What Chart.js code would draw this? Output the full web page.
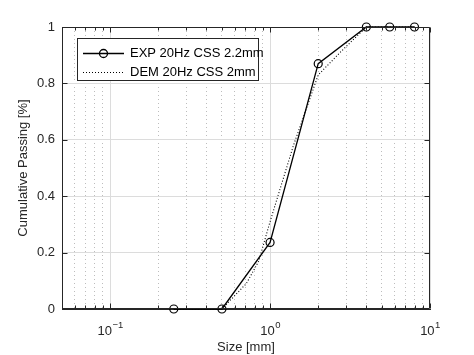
<!DOCTYPE html>
<html><head><meta charset="utf-8">
<style>html,body{margin:0;padding:0;background:#fff}</style>
<script src="https://cdn.jsdelivr.net/npm/chart.js@4/dist/chart.umd.min.js"></script>
</head><body>
<canvas id="c" width="474" height="355"></canvas>
<script>
// ---- data ----
const expSizes   = [0.25, 0.5, 1, 2, 4, 5.6, 8];
const expPassing = [0, 0, 0.236, 0.87, 1, 1, 1];
const demSizes   = [0.25, 0.5, 0.71, 0.85, 1, 1.4, 2, 2.8, 4, 5.6, 8];
const demPassing = [0, 0, 0.09, 0.17, 0.31, 0.58, 0.83, 0.915, 1, 1, 1];
const seriesLabels = ['EXP 20Hz CSS 2.2mm', 'DEM 20Hz CSS 2mm'];
const yTickValues = [0, 0.2, 0.4, 0.6, 0.8, 1];
const yTickLabels = ['0', '0.2', '0.4', '0.6', '0.8', '1'];
const xTickBase = '10';
const xTickExponents = ['-1', '0', '1'];
const xTitle = 'Size [mm]';
const yTitle = 'Cumulative Passing [%]';

const FONT = '"Liberation Sans", Arial, Helvetica, sans-serif';
const AX = '#262626';

// log-axis grid positions (decades and their 2..9 minors)
const xGridTicks = [];
for (let e = -2; e <= 1; e++) {
  for (let m = 1; m <= 9; m++) {
    const v = +(m * Math.pow(10, e)).toPrecision(3);
    if (v >= 0.05 - 1e-9 && v <= 10 + 1e-9) xGridTicks.push(v);
  }
}
const isDecade = v => Math.abs(Math.log10(v) - Math.round(Math.log10(v))) < 1e-6;

const toPts = (xs, ys) => xs.map((x, i) => ({x, y: ys[i]}));

const boxPlugin = {
  id: 'matlabBox',
  afterDraw(chart) {
    const ctx = chart.ctx, a = chart.chartArea;
    const xs = chart.scales.x, ys = chart.scales.y;
    ctx.save();
    ctx.strokeStyle = AX; ctx.lineWidth = 1;
    const L = Math.round(a.left) + 0.5, R = Math.round(a.right) - 0.5;
    const T = Math.round(a.top) + 0.5, B = Math.round(a.bottom) - 0.5;
    ctx.beginPath();
    ctx.moveTo(L, T); ctx.lineTo(R, T); ctx.lineTo(R, B); ctx.lineTo(L, B); ctx.closePath();
    ctx.stroke();
    // inner ticks
    ctx.beginPath();
    xGridTicks.forEach(v => {
      const px = Math.round(xs.getPixelForValue(v)) + 0.5;
      const len = isDecade(v) ? 5 : 3;
      ctx.moveTo(px, B); ctx.lineTo(px, B - len);
      ctx.moveTo(px, T); ctx.lineTo(px, T + len);
    });
    yTickValues.forEach(v => {
      const py = Math.round(ys.getPixelForValue(v)) + 0.5;
      ctx.moveTo(L, py); ctx.lineTo(L + 5, py);
      ctx.moveTo(R, py); ctx.lineTo(R - 5, py);
    });
    ctx.stroke();
    // x tick labels with superscript exponents
    ctx.fillStyle = AX;
    ctx.textBaseline = 'alphabetic';
    xTickExponents.forEach(ex => {
      const px = xs.getPixelForValue(Math.pow(10, +ex));
      ctx.font = '13px ' + FONT;
      const wb = ctx.measureText(xTickBase).width;
      const expTxt = ex.replace('-', '\u2212');
      ctx.font = '9.5px ' + FONT;
      const we = ctx.measureText(expTxt).width;
      const x0 = px - (wb + we) / 2;
      ctx.font = '13px ' + FONT;
      ctx.textAlign = 'left';
      ctx.fillText(xTickBase, x0, 334.5);
      ctx.font = '9.5px ' + FONT;
      ctx.fillText(expTxt, x0 + wb + 0.5, 328);
    });
    // legend
    const lx = 77.5, ly = 38.5, lw = 181, lh = 42;
    ctx.fillStyle = '#fff';
    ctx.fillRect(lx, ly, lw, lh);
    ctx.strokeStyle = AX; ctx.lineWidth = 1;
    ctx.strokeRect(lx, ly, lw, lh);
    const rows = [53, 72];
    chart.data.datasets.forEach((ds, i) => {
      const y = rows[i] + 0.5;
      ctx.save();
      ctx.strokeStyle = '#000';
      ctx.lineWidth = ds.borderWidth;
      ctx.setLineDash(ds.borderDash || []);
      ctx.beginPath(); ctx.moveTo(83, y); ctx.lineTo(124, y); ctx.stroke();
      ctx.setLineDash([]);
      if (ds.pointRadius > 0) {
        ctx.fillStyle = '#fff';
        ctx.beginPath(); ctx.arc(103.5, y, ds.pointRadius, 0, Math.PI * 2);
        ctx.stroke();
      }
      ctx.restore();
      ctx.fillStyle = '#000';
      ctx.font = '13px ' + FONT;
      ctx.textAlign = 'left'; ctx.textBaseline = 'middle';
      ctx.fillText(ds.label, 130, rows[i] + 0.5);
    });
    ctx.restore();
  }
};

new Chart(document.getElementById('c'), {
  type: 'line',
  data: {
    datasets: [
      {
        label: seriesLabels[0],
        data: toPts(expSizes, expPassing),
        borderColor: '#000', borderWidth: 1.3,
        pointRadius: 4, pointBorderWidth: 1.2,
        pointBackgroundColor: 'rgba(0,0,0,0)', pointBorderColor: '#000',
        pointStyle: 'circle', tension: 0, clip: false, fill: false
      },
      {
        label: seriesLabels[1],
        data: toPts(demSizes, demPassing),
        borderColor: '#000', borderWidth: 1.1, borderDash: [1, 2],
        pointRadius: 0, tension: 0, clip: false, fill: false
      }
    ]
  },
  options: {
    responsive: false, animation: false, devicePixelRatio: 1,
    layout: {padding: {top: 27, right: 44, left: 0, bottom: 0}},
    plugins: {legend: {display: false}, tooltip: {enabled: false}},
    scales: {
      x: {
        type: 'logarithmic', min: 0.05, max: 10,
        afterBuildTicks: s => { s.ticks = xGridTicks.map(v => ({value: v, major: isDecade(v)})); },
        afterFit: s => { s.height = 46; },
        ticks: {display: false, autoSkip: false},
        grid: {drawTicks: false, lineWidth: 1,
               color: c => (c.tick && c.tick.major) ? '#dcdcdc' : '#bdbdbd'},
        border: {display: true, color: AX, width: 1,
                 dash: c => (c.tick && !c.tick.major) ? [1, 3] : []},
        title: {display: true, text: xTitle, color: AX,
                font: {family: FONT, size: 13}, padding: {top: 0, bottom: 0}}
      },
      y: {
        min: 0, max: 1,
        afterBuildTicks: s => { s.ticks = yTickValues.map(v => ({value: v})); },
        afterFit: s => { s.width = 62; },
        ticks: {padding: 7, color: AX, font: {family: FONT, size: 13},
                callback: (v, i) => yTickLabels[i]},
        grid: {drawTicks: false, color: '#dcdcdc', lineWidth: 1},
        border: {display: true, color: AX, width: 1},
        title: {display: true, text: yTitle, color: AX,
                font: {family: FONT, size: 13}, padding: {top: 16, bottom: 0}}
      }
    }
  },
  plugins: [boxPlugin]
});
</script>
</body></html>
